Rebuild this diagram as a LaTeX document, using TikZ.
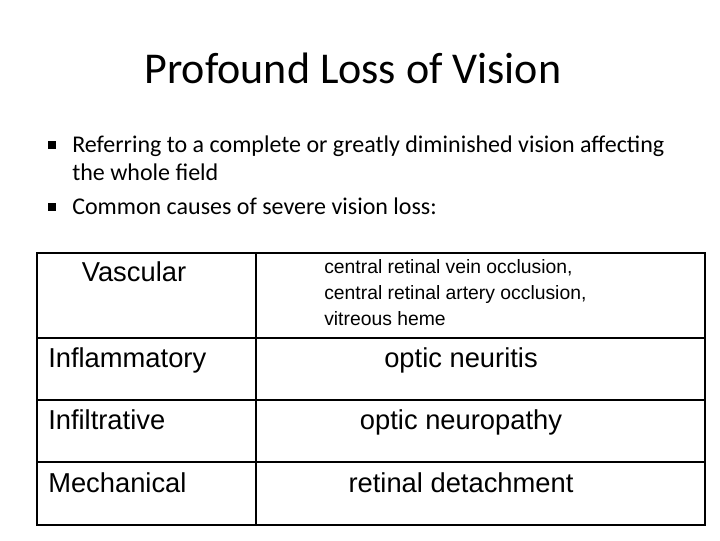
\documentclass[tikz,border=0pt]{standalone}
\usepackage{fontspec}
\setmainfont{Carlito}
\newfontfamily\arialf{Liberation Sans}
\begin{document}
\begin{tikzpicture}[x=0.75pt,y=-0.75pt,
  ttl/.style={font=\fontsize{33}{40}\selectfont},
  bul/.style={font=\fontsize{18}{22}\selectfont,anchor=base west,inner sep=0},
  big/.style={font=\arialf\fontsize{20.5}{24}\selectfont,inner sep=0},
  sm/.style={font=\arialf\fontsize{14.5}{19.5}\selectfont,inner sep=0,align=left},
  sq/.style={fill=black,minimum size=6.5pt,inner sep=0}]
\useasboundingbox (0,0) rectangle (720,540);
\node[ttl] (title) at (353,68) {Profound Loss of Vision};
\node[sq] (b1) at (52,145) {};
\node[sq] (b2) at (52,207) {};
\node[bul] (t1) at (72,152) {Referring to a complete or greatly diminished vision affecting};
\node[bul] (t1b) at (72,180) {the whole field};
\node[bul] (t2) at (72,214) {Common causes of severe vision loss:};
\draw[line width=1.8pt] (37,253) rectangle (705,525);
\draw[line width=1.2pt] (256,253) -- (256,525);
\foreach \y in {338,400,462} \draw[line width=1.2pt] (37,\y) -- (705,\y);
\node[big,anchor=base] (v) at (134,281) {Vascular};
\node[sm,anchor=north west] (vc) at (324,259) {central retinal vein occlusion,\\central retinal artery occlusion,\\vitreous heme};
\node[big,anchor=base west] (i1) at (48,367) {Inflammatory};
\node[big,anchor=base] (o1) at (461,367) {optic neuritis};
\node[big,anchor=base west] (i2) at (48,429) {Infiltrative};
\node[big,anchor=base] (o2) at (461,429) {optic neuropathy};
\node[big,anchor=base west] (i3) at (48,492) {Mechanical};
\node[big,anchor=base] (o3) at (461,492) {retinal detachment};
\end{tikzpicture}
\end{document}
